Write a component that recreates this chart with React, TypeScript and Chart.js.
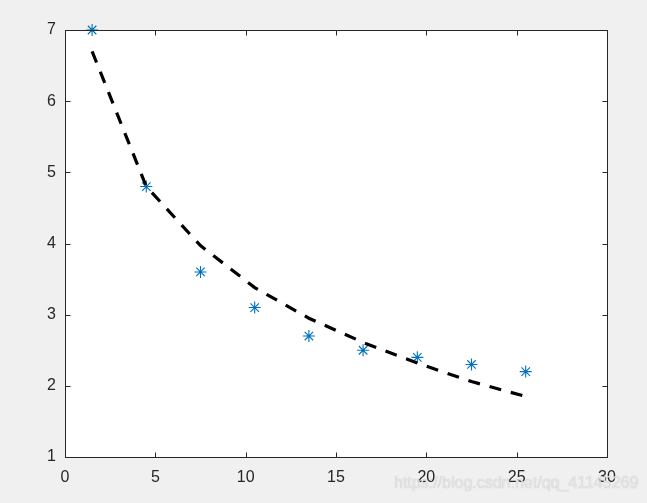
import React, { useEffect, useRef } from "react";
import { Chart, registerables } from "chart.js";

Chart.register(...registerables);

const xValues = [1.5, 4.5, 7.5, 10.5, 13.5, 16.5, 19.5, 22.5, 25.5];
const measured = [7.0, 4.8, 3.6, 3.1, 2.7, 2.5, 2.4, 2.3, 2.2];
const fitted = [6.7, 4.8, 3.97, 3.38, 2.95, 2.61, 2.32, 2.06, 1.85];
const xTicks = [0, 5, 10, 15, 20, 25, 30];
const yTicks = [1, 2, 3, 4, 5, 6, 7];
const watermark = "https://blog.csdn.net/qq_41145269";

const FONT = "Arial, 'Liberation Sans', Helvetica, sans-serif";

const framePlugin = {
  id: "matlabFrame",
  beforeDatasetsDraw(chart: any) {
    const { ctx, chartArea } = chart;
    ctx.save();
    ctx.fillStyle = "#ffffff";
    ctx.fillRect(chartArea.left, chartArea.top, chartArea.right - chartArea.left, chartArea.bottom - chartArea.top);
    ctx.restore();
  },
  afterDraw(chart: any) {
    const { ctx, chartArea } = chart;
    const xs = chart.scales.x;
    const ys = chart.scales.y;
    const L = Math.round(chartArea.left) + 0.5;
    const R = Math.round(chartArea.right) + 0.5;
    const T = Math.round(chartArea.top) + 0.5;
    const B = Math.round(chartArea.bottom) + 0.5;
    ctx.save();
    ctx.strokeStyle = "#262626";
    ctx.lineWidth = 1;
    ctx.beginPath();
    ctx.rect(L, T, R - L, B - T);
    const tl = 5;
    xTicks.forEach((v) => {
      const px = Math.round(xs.getPixelForValue(v)) + 0.5;
      ctx.moveTo(px, B);
      ctx.lineTo(px, B - tl);
      ctx.moveTo(px, T);
      ctx.lineTo(px, T + tl);
    });
    yTicks.forEach((v) => {
      const py = Math.round(ys.getPixelForValue(v)) + 0.5;
      ctx.moveTo(L, py);
      ctx.lineTo(L + tl, py);
      ctx.moveTo(R, py);
      ctx.lineTo(R - tl, py);
    });
    ctx.stroke();
    ctx.restore();
  },
};

export default function App() {
  const ref = useRef<HTMLCanvasElement | null>(null);

  useEffect(() => {
    document.body.style.margin = "0";
    if (!ref.current) return;
    const chart = new Chart(ref.current, {
      type: "scatter",
      data: {
        datasets: [
          {
            type: "line",
            label: "fit",
            data: xValues.map((x, i) => ({ x, y: fitted[i] })),
            borderColor: "#000000",
            borderWidth: 3.2,
            borderDash: [12, 10],
            pointRadius: 0,
            fill: false,
            tension: 0,
            clip: false as any,
          },
          {
            type: "scatter",
            label: "data",
            data: xValues.map((x, i) => ({ x, y: measured[i] })),
            pointStyle: "star",
            pointRadius: 6,
            borderColor: "#0072BD",
            backgroundColor: "#0072BD",
            borderWidth: 1.1,
            clip: false as any,
          },
        ],
      },
      options: {
        animation: false,
        responsive: false,
        maintainAspectRatio: false,
        layout: { padding: { left: 0, top: 30, right: 40, bottom: 0 } },
        plugins: {
          legend: { display: false },
          tooltip: { enabled: false },
        },
        scales: {
          x: {
            type: "linear",
            min: 0,
            max: 30,
            afterBuildTicks: (s: any) => {
              s.ticks = xTicks.map((v) => ({ value: v }));
            },
            afterFit: (s: any) => {
              s.height = 46;
            },
            grid: { display: false, drawTicks: false },
            border: { display: false },
            ticks: {
              padding: 11,
              color: "#262626",
              font: { family: FONT, size: 16 },
              maxRotation: 0,
            },
          },
          y: {
            type: "linear",
            min: 1,
            max: 7,
            afterBuildTicks: (s: any) => {
              s.ticks = yTicks.map((v) => ({ value: v }));
            },
            afterFit: (s: any) => {
              s.width = 65;
            },
            grid: { display: false, drawTicks: false },
            border: { display: false },
            ticks: {
              padding: 9,
              color: "#262626",
              font: { family: FONT, size: 16 },
            },
          },
        },
      },
      plugins: [framePlugin],
    });
    return () => chart.destroy();
  }, []);

  return (
    <div
      style={{
        position: "relative",
        width: 647,
        height: 503,
        background: "#f0f0f0",
        overflow: "hidden",
      }}
    >
      <canvas ref={ref} width={647} height={503} style={{ display: "block" }} />
      <div
        style={{
          position: "absolute",
          left: 394,
          top: 474,
          fontFamily: FONT,
          fontSize: 16,
          color: "rgba(232,232,232,0.9)",
          textShadow: "0 0 1px rgba(150,150,150,0.6)",
          whiteSpace: "nowrap",
          pointerEvents: "none",
        }}
      >
        {watermark}
      </div>
    </div>
  );
}
